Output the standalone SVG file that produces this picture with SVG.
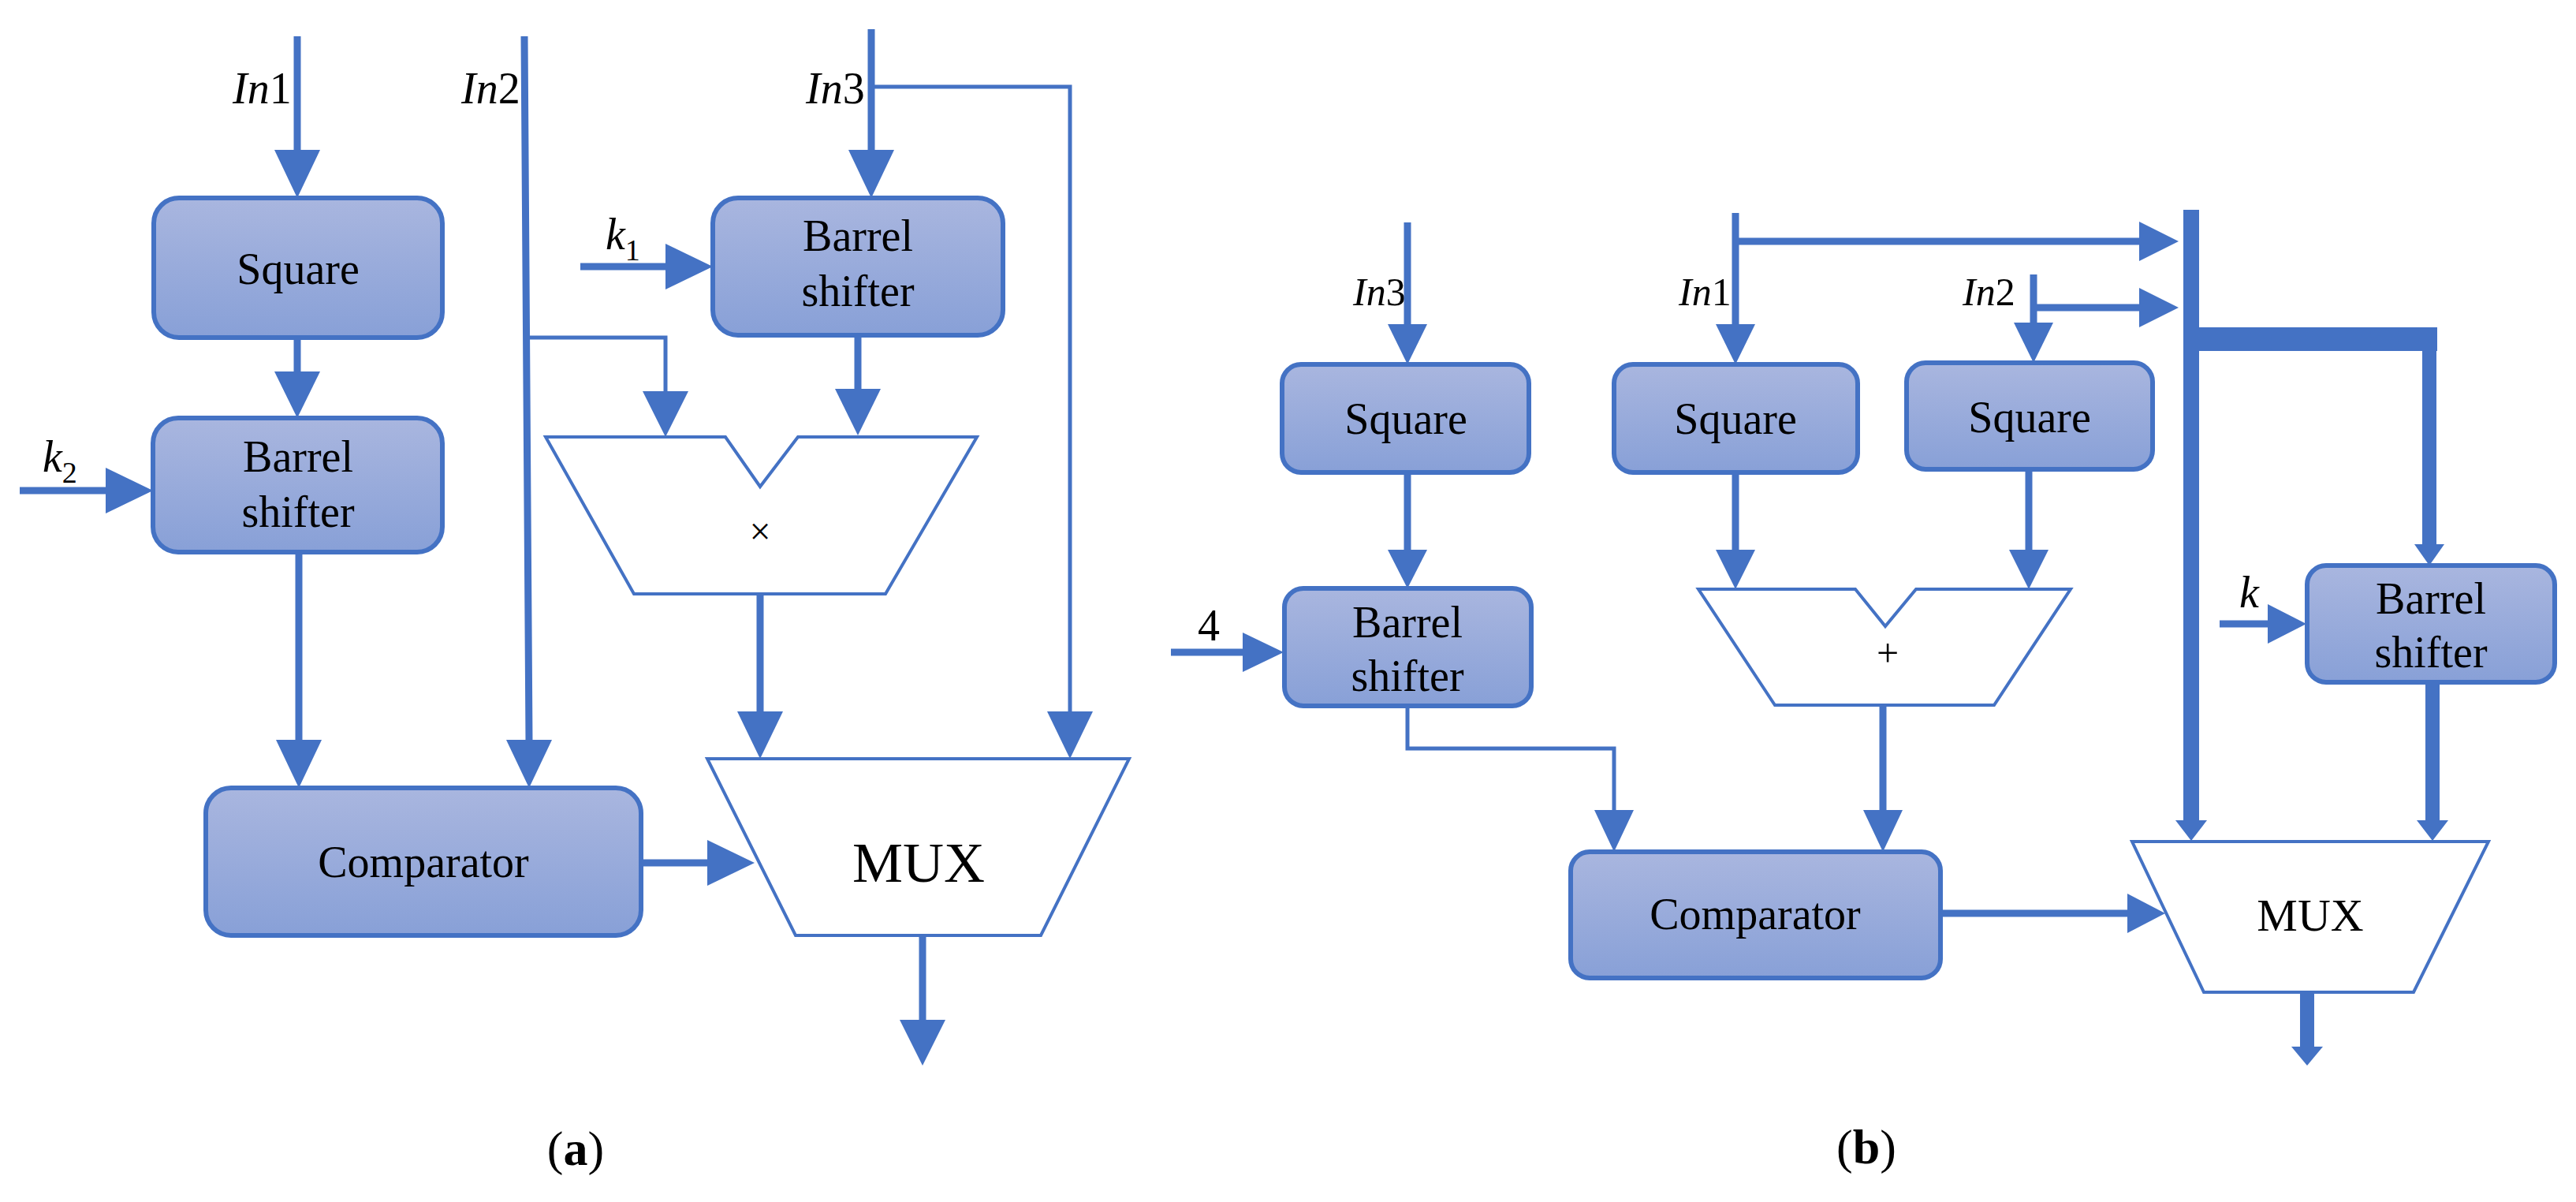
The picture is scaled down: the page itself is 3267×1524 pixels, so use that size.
<svg xmlns="http://www.w3.org/2000/svg" width="3267" height="1524" viewBox="0 0 3267 1524">
<defs>
<linearGradient id="g" x1="0" y1="0" x2="0" y2="1"><stop offset="0" stop-color="#a9b6df"/><stop offset="1" stop-color="#88a0d7"/></linearGradient>
<style>
.box{fill:url(#g);stroke:#4472c4;stroke-width:6}
.shape{fill:#fff;stroke:#4472c4;stroke-width:4}
.thick{stroke:#4472c4;stroke-width:9;fill:none}
.thin{stroke:#4472c4;stroke-width:5;fill:none}
.ah{fill:#4472c4}
text{font-family:"Liberation Serif","Times New Roman",serif;fill:#000}
.lbl{font-size:56px;text-anchor:middle}
.it{font-style:italic}
</style>
</defs>
<g id="a-square"><rect class="box" x="195" y="251" width="366" height="177" rx="32"/><text class="lbl" x="378" y="360">Square</text></g>
<g id="a-barrel2"><rect class="box" x="194" y="530" width="367" height="170" rx="32"/><text class="lbl" x="378" y="598">Barrel</text><text class="lbl" x="378" y="668">shifter</text></g>
<g id="a-barrel1"><rect class="box" x="904" y="251" width="368" height="174" rx="32"/><text class="lbl" x="1088" y="318">Barrel</text><text class="lbl" x="1088" y="388">shifter</text></g>
<g id="a-comparator"><rect class="box" x="261" y="999" width="552" height="187" rx="32"/><text class="lbl" x="537" y="1112">Comparator</text></g>
<g id="a-mult"><polygon class="shape" points="692,554 920,554 964,617 1012,554 1239,554 1123,753 804,753"/><text x="964" y="690" style="font-size:48px;text-anchor:middle">×</text></g>
<g id="a-mux"><polygon class="shape" points="897,962 1432,962 1320,1186 1009,1186"/><text x="1165" y="1118" style="font-size:72px;text-anchor:middle">MUX</text></g>
<g id="a-labels">
<text x="295" y="131" style="font-size:56px"><tspan class="it">In</tspan>1</text>
<text x="585" y="131" style="font-size:56px"><tspan class="it">In</tspan>2</text>
<text x="1022" y="131" style="font-size:56px"><tspan class="it">In</tspan>3</text>
<text x="54" y="598" style="font-size:56px"><tspan class="it">k</tspan><tspan style="font-size:38px" dy="14">2</tspan></text>
<text x="768" y="316" style="font-size:56px"><tspan class="it">k</tspan><tspan style="font-size:38px" dy="14">1</tspan></text>
<text x="730" y="1477" style="font-size:62px;text-anchor:middle">(<tspan font-weight="bold">a</tspan>)</text>
</g>
<g id="a-connectors">
<path class="thick" d="M377,46V195M377,428V475M379,700V942M665,46L671,940M1105,37V195M1088,425V497M964,753V906M813,1094H900M1170,1186V1297M25,622H137M736,338H847"/>
<path class="thin" d="M671,428H844V500M1105,110H1357V905"/>
<polygon class="ah" points="348,190 406,190 377,251"/>
<polygon class="ah" points="348,471 406,471 377,530"/>
<polygon class="ah" points="350,938 408,938 379,999"/>
<polygon class="ah" points="642,938 700,938 671,999"/>
<polygon class="ah" points="815,496 873,496 844,554"/>
<polygon class="ah" points="1076,190 1134,190 1105,251"/>
<polygon class="ah" points="1059,493 1117,493 1088,552"/>
<polygon class="ah" points="935,902 993,902 964,962"/>
<polygon class="ah" points="1328,902 1386,902 1357,962"/>
<polygon class="ah" points="1141,1293 1199,1293 1170,1351"/>
<polygon class="ah" points="134,593 134,651 194,622"/>
<polygon class="ah" points="844,309 844,367 904,338"/>
<polygon class="ah" points="897,1065 897,1123 957,1094"/>
</g>

<g id="b-square1"><rect class="box" x="1626" y="462" width="313" height="137" rx="24"/><text class="lbl" x="1783" y="550">Square</text></g>
<g id="b-square2"><rect class="box" x="2047" y="462" width="309" height="137" rx="24"/><text class="lbl" x="2201" y="550">Square</text></g>
<g id="b-square3"><rect class="box" x="2418" y="460" width="312" height="135" rx="24"/><text class="lbl" x="2574" y="548">Square</text></g>
<g id="b-barrel1"><rect class="box" x="1629" y="746" width="313" height="149" rx="24"/><text class="lbl" x="1785" y="808">Barrel</text><text class="lbl" x="1785" y="876">shifter</text></g>
<g id="b-barrel2"><rect class="box" x="2926" y="717" width="314" height="148" rx="24"/><text class="lbl" x="3083" y="778">Barrel</text><text class="lbl" x="3083" y="846">shifter</text></g>
<g id="b-comparator"><rect class="box" x="1992" y="1080" width="469" height="160" rx="24"/><text class="lbl" x="2226" y="1178">Comparator</text></g>
<g id="b-adder"><polygon class="shape" points="2154,747 2353,747 2391,794 2430,747 2626,747 2529,894 2251,894"/><text x="2394" y="845" style="font-size:50px;text-anchor:middle">+</text></g>
<g id="b-mux"><polygon class="shape" points="2704,1067 3156,1067 3061,1258 2795,1258"/><text x="2930" y="1180" style="font-size:58px;text-anchor:middle">MUX</text></g>
<g id="b-labels">
<text x="1716" y="387" style="font-size:50px"><tspan class="it">In</tspan>3</text>
<text x="2129" y="387" style="font-size:50px"><tspan class="it">In</tspan>1</text>
<text x="2489" y="387" style="font-size:50px"><tspan class="it">In</tspan>2</text>
<text x="1519" y="812" style="font-size:56px">4</text>
<text x="2840" y="770" style="font-size:56px" class="it">k</text>
<text x="2367" y="1475" style="font-size:62px;text-anchor:middle">(<tspan font-weight="bold">b</tspan>)</text>
</g>
<g id="b-connectors">
<path class="thick" d="M1785,282V415M1785,599V700M2201,270V415M2201,306H2716M2579,348V415M2579,390H2716M2201,599V700M2573,595V700M2388,894V1030M1485,827H1580M2815,791H2880M2461,1158H2702"/>
<path class="thin" d="M1785,895V949H2047V1030"/>
<path d="M2779,266V1045" stroke="#4472c4" stroke-width="20" fill="none"/>
<path d="M2779,430H3081V695M3085,865V1045M2926,1258V1330" stroke="#4472c4" stroke-width="18" fill="none"/>
<path d="M2779,430H3091" stroke="#4472c4" stroke-width="30" fill="none"/>
<polygon class="ah" points="1760,411 1810,411 1785,462"/>
<polygon class="ah" points="1760,697 1810,697 1785,746"/>
<polygon class="ah" points="2176,411 2226,411 2201,462"/>
<polygon class="ah" points="2554,409 2604,409 2579,460"/>
<polygon class="ah" points="2176,697 2226,697 2201,747"/>
<polygon class="ah" points="2548,697 2598,697 2573,747"/>
<polygon class="ah" points="2022,1027 2072,1027 2047,1080"/>
<polygon class="ah" points="2363,1027 2413,1027 2388,1080"/>
<polygon class="ah" points="2713,281 2713,331 2763,306"/>
<polygon class="ah" points="2713,365 2713,415 2763,390"/>
<polygon class="ah" points="1576,802 1576,852 1628,827"/>
<polygon class="ah" points="2876,766 2876,816 2925,791"/>
<polygon class="ah" points="2698,1133 2698,1183 2746,1158"/>
<polygon class="ah" points="3062,690 3100,690 3081,717"/>
<polygon class="ah" points="2759,1040 2799,1040 2779,1066"/>
<polygon class="ah" points="3065,1040 3105,1040 3085,1066"/>
<polygon class="ah" points="2906,1327 2946,1327 2926,1351"/>
</g>
</svg>
